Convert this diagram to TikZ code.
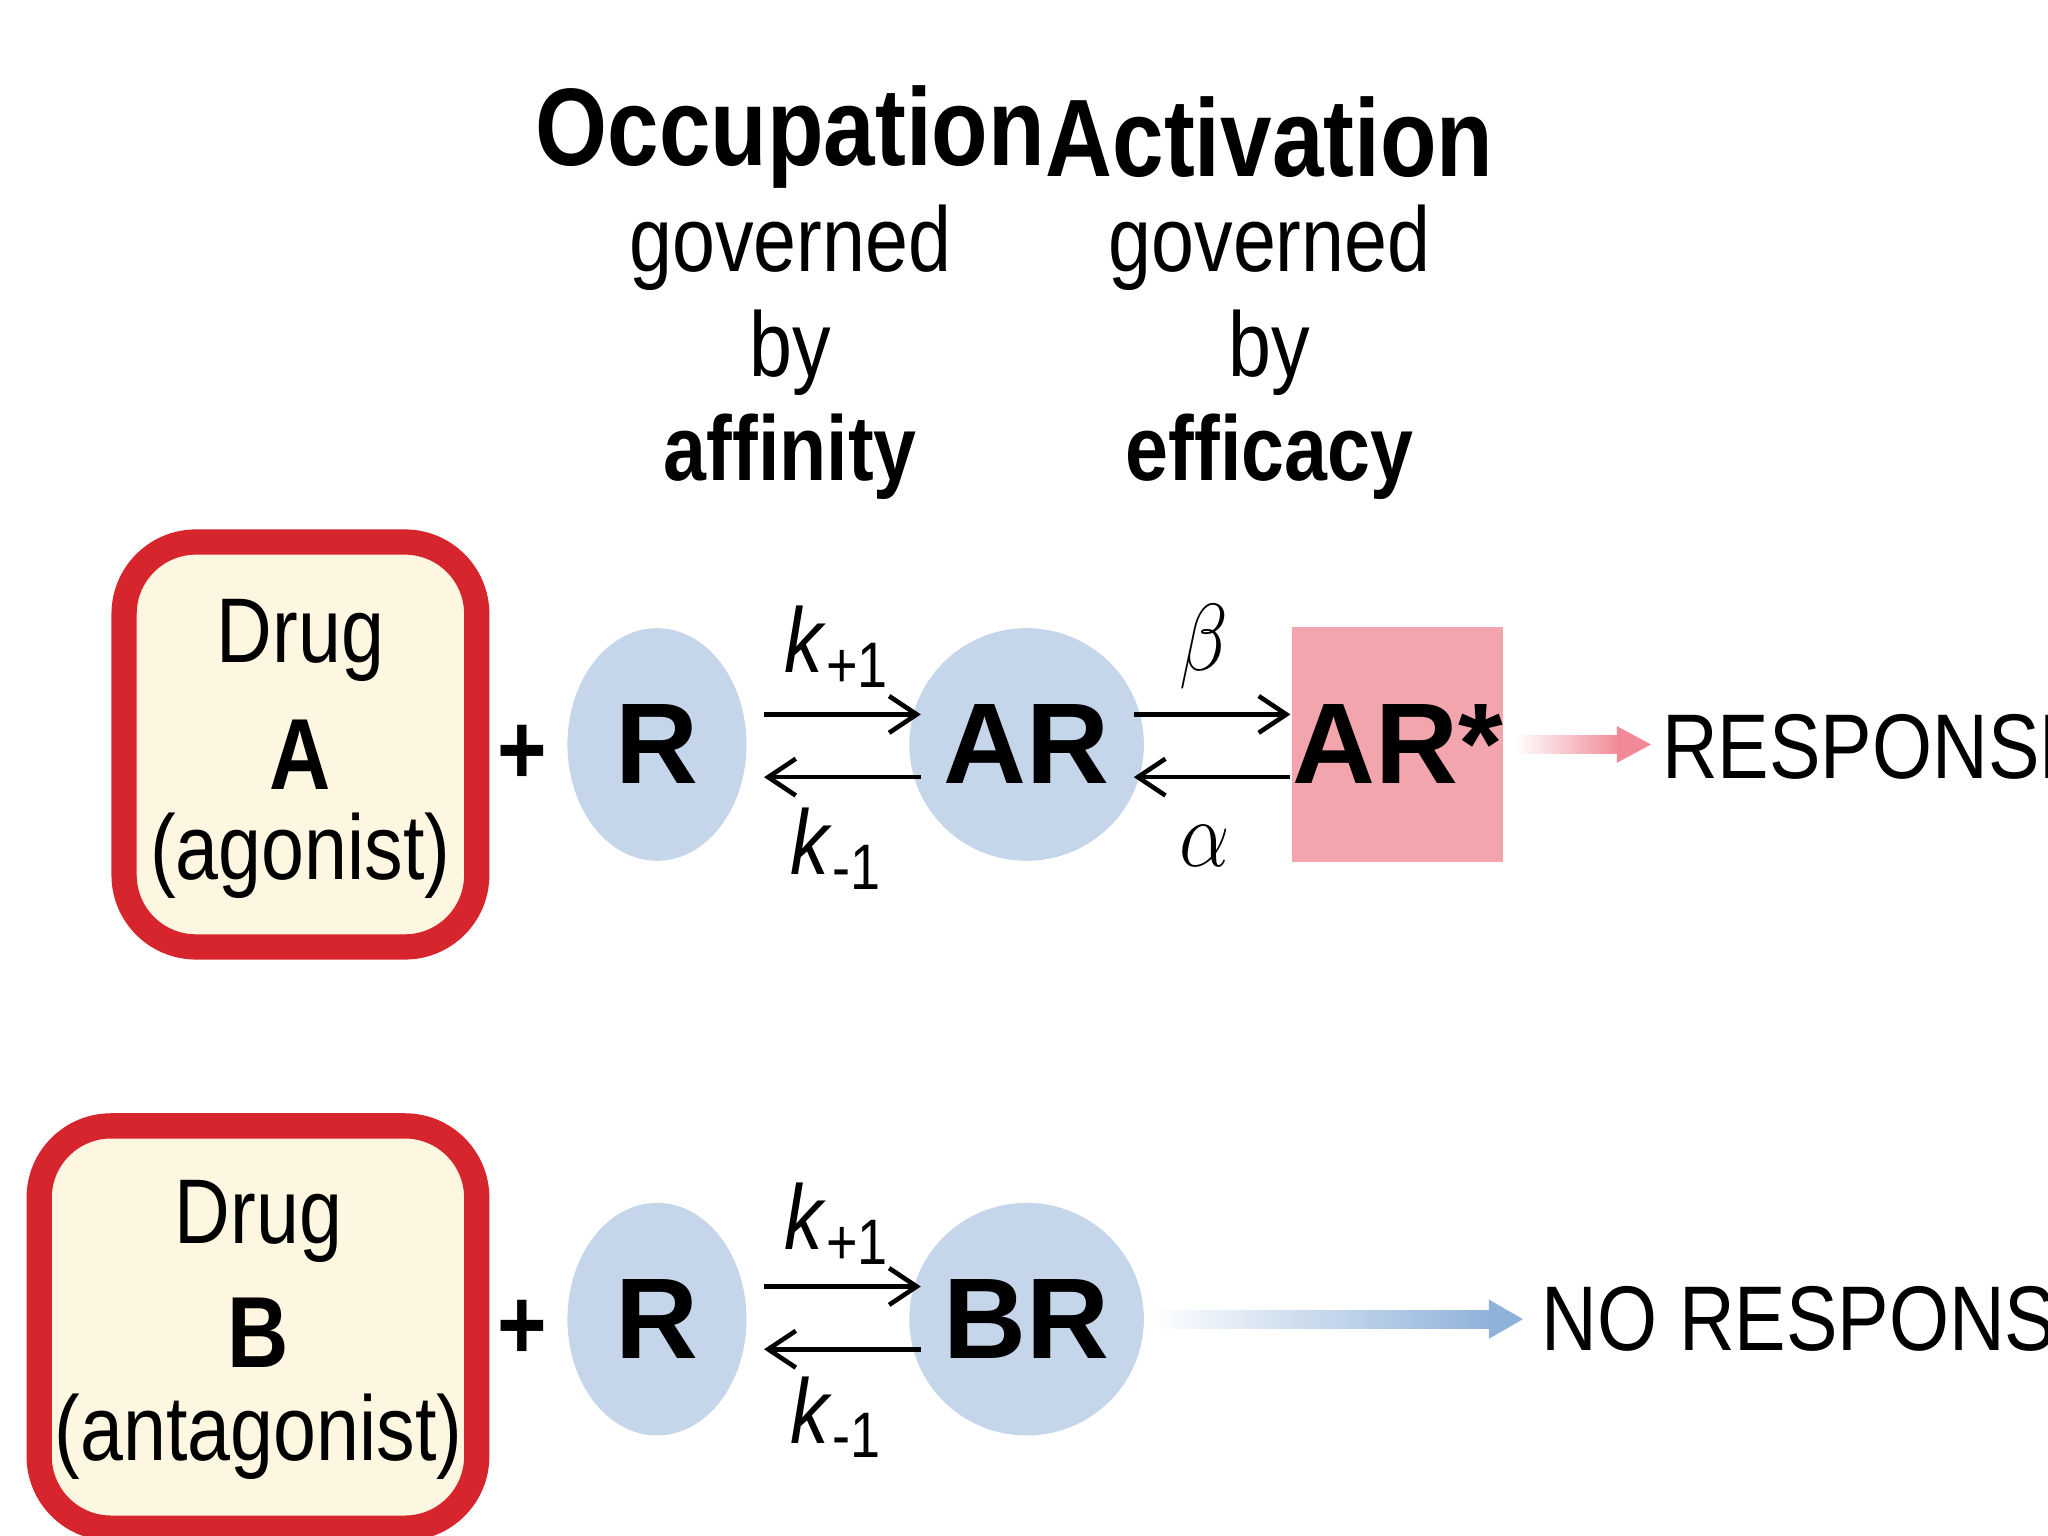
\documentclass[tikz,border=0pt]{standalone}
\usepackage{fontspec}
\setmainfont{Liberation Sans}
\usetikzlibrary{arrows.meta,shapes.geometric}
\definecolor{cream}{HTML}{FDF6E0}
\definecolor{dred}{HTML}{D7252E}
\definecolor{rblue}{HTML}{C5D5EA}
\definecolor{arpink}{HTML}{F2A5AC}
\definecolor{parrow}{HTML}{F08A96}
\definecolor{barrow}{HTML}{8FB2DA}
\tikzset{
 txt/.style={inner sep=0pt, transform shape, xscale=.84, font=\fontsize{20}{24}\selectfont},
 big/.style={txt, font=\fontsize{24}{28}\selectfont\bfseries},
 drugbox/.style={draw=dred, line width=5.5pt, rounded corners=0.55cm, fill=cream},
 rec/.style={ellipse, fill=rblue, minimum width=1.37cm, minimum height=1.78cm, inner sep=0pt, font=\fontsize{25}{28}\selectfont\bfseries},
 rx/.style={-{Straight Barb[length=6pt,width=8pt]}, line width=1pt},
}
\begin{document}
\begin{tikzpicture}[x=0.01cm,y=-0.01cm]
\useasboundingbox (0,0) rectangle (1568,1176);
% headers
\node[big] (occ) at (605,105) {Occupation};
\node[txt] (g1) at (605,190) {governed};
\node[txt] (b1) at (605,270) {by};
\node[txt,font=\fontsize{20}{24}\selectfont\bfseries] (af) at (605,350) {affinity};
\node[big] (act) at (972,105) {Activation};
\node[txt] (g2) at (972,190) {governed};
\node[txt] (b2) at (972,270) {by};
\node[txt,font=\fontsize{20}{24}\selectfont\bfseries] (ef) at (972,350) {efficacy};
% row A
\path[drugbox] (95,415) rectangle (365,725);
\node[txt] (dA) at (230,490) {Drug};
\node[txt,font=\fontsize{22}{24}\selectfont\bfseries] (A) at (230,578) {A};
\node[txt] (ag) at (230,655) {(agonist)};
\node[txt,font=\fontsize{22}{24}\selectfont\bfseries] (p1) at (400,578) {+};
\node[rec] (R1) at (503,570) {R};
\node[rec] (AR) at (786,570) {AR};
\node[fill=arpink, minimum width=1.4cm, minimum height=1.8cm, inner sep=0pt, font=\fontsize{25}{28}\selectfont\bfseries] (ARs) at (1070,570) {AR*};
\coordinate (a1) at (585,547); \coordinate (a2) at (705,547);
\coordinate (a3) at (705,595); \coordinate (a4) at (585,595);
\draw[rx] (a1) -- (a2); \draw[rx] (a3) -- (a4);
\node[txt] (k1) at (640,495) {\textit{k}\raisebox{-0.3ex}{\fontsize{14}{16}\selectfont +1}};
\node[txt] (k2) at (640,650) {\textit{k}\raisebox{-0.3ex}{\fontsize{14}{16}\selectfont -1}};
\coordinate (c1) at (868,547); \coordinate (c2) at (988,547);
\coordinate (c3) at (988,595); \coordinate (c4) at (868,595);
\draw[rx] (c1) -- (c2); \draw[rx] (c3) -- (c4);
\node[txt] (be) at (922,495) {$\beta$};
\node[txt] (al) at (922,648) {$\alpha$};
\shade[left color=white, right color=parrow] (1160,563) rectangle (1240,577);
\fill[parrow] (1238,556) -- (1264,570) -- (1238,584) -- cycle;
\node[txt,anchor=west] (resp) at (1272,572) {RESPONSE};
% row B
\path[drugbox] (30,862) rectangle (365,1170);
\node[txt] (dB) at (198,935) {Drug};
\node[txt,font=\fontsize{22}{24}\selectfont\bfseries] (B) at (198,1020) {B};
\node[txt] (an) at (198,1100) {(antagonist)};
\node[txt,font=\fontsize{22}{24}\selectfont\bfseries] (p2) at (400,1018) {+};
\node[rec] (R2) at (503,1010) {R};
\node[rec] (BR) at (786,1010) {BR};
\coordinate (d1) at (585,985); \coordinate (d2) at (705,985);
\coordinate (d3) at (705,1033); \coordinate (d4) at (585,1033);
\draw[rx] (d1) -- (d2); \draw[rx] (d3) -- (d4);
\node[txt] (k3) at (640,937) {\textit{k}\raisebox{-0.3ex}{\fontsize{14}{16}\selectfont +1}};
\node[txt] (k4) at (640,1085) {\textit{k}\raisebox{-0.3ex}{\fontsize{14}{16}\selectfont -1}};
\shade[left color=white, right color=barrow] (880,1003) rectangle (1142,1017);
\fill[barrow] (1140,995) -- (1166,1010) -- (1140,1025) -- cycle;
\node[txt,anchor=west] (nresp) at (1180,1010) {NO RESPONSE};
\end{tikzpicture}
\end{document}
